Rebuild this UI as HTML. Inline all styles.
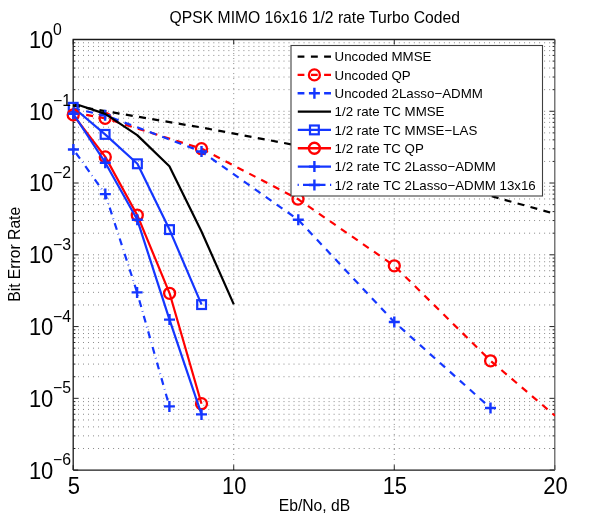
<!DOCTYPE html><html><head><meta charset="utf-8"><style>html,body{margin:0;padding:0;background:#fff;width:598px;height:529px;overflow:hidden}</style></head><body><svg width="598" height="529" viewBox="0 0 598 529" style="display:block;will-change:transform">
<rect width="598" height="529" fill="#fff"/>
<line x1="78" y1="89.66" x2="554.8" y2="89.66" stroke="#8a8a8a" stroke-width="1" stroke-dasharray="1 4.012"/>
<line x1="78" y1="77.03" x2="554.8" y2="77.03" stroke="#8a8a8a" stroke-width="1" stroke-dasharray="1 4.012"/>
<line x1="78" y1="68.06" x2="554.8" y2="68.06" stroke="#8a8a8a" stroke-width="1" stroke-dasharray="1 4.012"/>
<line x1="78" y1="61.10" x2="554.8" y2="61.10" stroke="#8a8a8a" stroke-width="1" stroke-dasharray="1 4.012"/>
<line x1="78" y1="55.42" x2="554.8" y2="55.42" stroke="#8a8a8a" stroke-width="1" stroke-dasharray="1 4.012"/>
<line x1="78" y1="50.62" x2="554.8" y2="50.62" stroke="#8a8a8a" stroke-width="1" stroke-dasharray="1 4.012"/>
<line x1="78" y1="46.45" x2="554.8" y2="46.45" stroke="#8a8a8a" stroke-width="1" stroke-dasharray="1 4.012"/>
<line x1="78" y1="42.78" x2="554.8" y2="42.78" stroke="#8a8a8a" stroke-width="1" stroke-dasharray="1 4.012"/>
<line x1="78" y1="161.43" x2="554.8" y2="161.43" stroke="#8a8a8a" stroke-width="1" stroke-dasharray="1 4.012"/>
<line x1="78" y1="148.79" x2="554.8" y2="148.79" stroke="#8a8a8a" stroke-width="1" stroke-dasharray="1 4.012"/>
<line x1="78" y1="139.83" x2="554.8" y2="139.83" stroke="#8a8a8a" stroke-width="1" stroke-dasharray="1 4.012"/>
<line x1="78" y1="132.87" x2="554.8" y2="132.87" stroke="#8a8a8a" stroke-width="1" stroke-dasharray="1 4.012"/>
<line x1="78" y1="127.19" x2="554.8" y2="127.19" stroke="#8a8a8a" stroke-width="1" stroke-dasharray="1 4.012"/>
<line x1="78" y1="122.38" x2="554.8" y2="122.38" stroke="#8a8a8a" stroke-width="1" stroke-dasharray="1 4.012"/>
<line x1="78" y1="118.22" x2="554.8" y2="118.22" stroke="#8a8a8a" stroke-width="1" stroke-dasharray="1 4.012"/>
<line x1="78" y1="114.55" x2="554.8" y2="114.55" stroke="#8a8a8a" stroke-width="1" stroke-dasharray="1 4.012"/>
<line x1="78" y1="233.20" x2="554.8" y2="233.20" stroke="#8a8a8a" stroke-width="1" stroke-dasharray="1 4.012"/>
<line x1="78" y1="220.56" x2="554.8" y2="220.56" stroke="#8a8a8a" stroke-width="1" stroke-dasharray="1 4.012"/>
<line x1="78" y1="211.59" x2="554.8" y2="211.59" stroke="#8a8a8a" stroke-width="1" stroke-dasharray="1 4.012"/>
<line x1="78" y1="204.64" x2="554.8" y2="204.64" stroke="#8a8a8a" stroke-width="1" stroke-dasharray="1 4.012"/>
<line x1="78" y1="198.95" x2="554.8" y2="198.95" stroke="#8a8a8a" stroke-width="1" stroke-dasharray="1 4.012"/>
<line x1="78" y1="194.15" x2="554.8" y2="194.15" stroke="#8a8a8a" stroke-width="1" stroke-dasharray="1 4.012"/>
<line x1="78" y1="189.99" x2="554.8" y2="189.99" stroke="#8a8a8a" stroke-width="1" stroke-dasharray="1 4.012"/>
<line x1="78" y1="186.32" x2="554.8" y2="186.32" stroke="#8a8a8a" stroke-width="1" stroke-dasharray="1 4.012"/>
<line x1="78" y1="304.96" x2="554.8" y2="304.96" stroke="#8a8a8a" stroke-width="1" stroke-dasharray="1 4.012"/>
<line x1="78" y1="292.33" x2="554.8" y2="292.33" stroke="#8a8a8a" stroke-width="1" stroke-dasharray="1 4.012"/>
<line x1="78" y1="283.36" x2="554.8" y2="283.36" stroke="#8a8a8a" stroke-width="1" stroke-dasharray="1 4.012"/>
<line x1="78" y1="276.40" x2="554.8" y2="276.40" stroke="#8a8a8a" stroke-width="1" stroke-dasharray="1 4.012"/>
<line x1="78" y1="270.72" x2="554.8" y2="270.72" stroke="#8a8a8a" stroke-width="1" stroke-dasharray="1 4.012"/>
<line x1="78" y1="265.92" x2="554.8" y2="265.92" stroke="#8a8a8a" stroke-width="1" stroke-dasharray="1 4.012"/>
<line x1="78" y1="261.75" x2="554.8" y2="261.75" stroke="#8a8a8a" stroke-width="1" stroke-dasharray="1 4.012"/>
<line x1="78" y1="258.08" x2="554.8" y2="258.08" stroke="#8a8a8a" stroke-width="1" stroke-dasharray="1 4.012"/>
<line x1="78" y1="376.73" x2="554.8" y2="376.73" stroke="#8a8a8a" stroke-width="1" stroke-dasharray="1 4.012"/>
<line x1="78" y1="364.09" x2="554.8" y2="364.09" stroke="#8a8a8a" stroke-width="1" stroke-dasharray="1 4.012"/>
<line x1="78" y1="355.13" x2="554.8" y2="355.13" stroke="#8a8a8a" stroke-width="1" stroke-dasharray="1 4.012"/>
<line x1="78" y1="348.17" x2="554.8" y2="348.17" stroke="#8a8a8a" stroke-width="1" stroke-dasharray="1 4.012"/>
<line x1="78" y1="342.49" x2="554.8" y2="342.49" stroke="#8a8a8a" stroke-width="1" stroke-dasharray="1 4.012"/>
<line x1="78" y1="337.68" x2="554.8" y2="337.68" stroke="#8a8a8a" stroke-width="1" stroke-dasharray="1 4.012"/>
<line x1="78" y1="333.52" x2="554.8" y2="333.52" stroke="#8a8a8a" stroke-width="1" stroke-dasharray="1 4.012"/>
<line x1="78" y1="329.85" x2="554.8" y2="329.85" stroke="#8a8a8a" stroke-width="1" stroke-dasharray="1 4.012"/>
<line x1="78" y1="448.50" x2="554.8" y2="448.50" stroke="#8a8a8a" stroke-width="1" stroke-dasharray="1 4.012"/>
<line x1="78" y1="435.86" x2="554.8" y2="435.86" stroke="#8a8a8a" stroke-width="1" stroke-dasharray="1 4.012"/>
<line x1="78" y1="426.89" x2="554.8" y2="426.89" stroke="#8a8a8a" stroke-width="1" stroke-dasharray="1 4.012"/>
<line x1="78" y1="419.94" x2="554.8" y2="419.94" stroke="#8a8a8a" stroke-width="1" stroke-dasharray="1 4.012"/>
<line x1="78" y1="414.25" x2="554.8" y2="414.25" stroke="#8a8a8a" stroke-width="1" stroke-dasharray="1 4.012"/>
<line x1="78" y1="409.45" x2="554.8" y2="409.45" stroke="#8a8a8a" stroke-width="1" stroke-dasharray="1 4.012"/>
<line x1="78" y1="405.29" x2="554.8" y2="405.29" stroke="#8a8a8a" stroke-width="1" stroke-dasharray="1 4.012"/>
<line x1="78" y1="401.62" x2="554.8" y2="401.62" stroke="#8a8a8a" stroke-width="1" stroke-dasharray="1 4.012"/>
<line x1="78" y1="111.27" x2="554.8" y2="111.27" stroke="#8a8a8a" stroke-width="1" stroke-dasharray="1 4.012"/>
<line x1="78" y1="183.03" x2="554.8" y2="183.03" stroke="#8a8a8a" stroke-width="1" stroke-dasharray="1 4.012"/>
<line x1="78" y1="254.80" x2="554.8" y2="254.80" stroke="#8a8a8a" stroke-width="1" stroke-dasharray="1 4.012"/>
<line x1="78" y1="326.57" x2="554.8" y2="326.57" stroke="#8a8a8a" stroke-width="1" stroke-dasharray="1 4.012"/>
<line x1="78" y1="398.33" x2="554.8" y2="398.33" stroke="#8a8a8a" stroke-width="1" stroke-dasharray="1 4.012"/>
<line x1="233.73" y1="43" x2="233.73" y2="470.1" stroke="#8a8a8a" stroke-width="1" stroke-dasharray="1 4.012"/>
<line x1="394.27" y1="43" x2="394.27" y2="470.1" stroke="#8a8a8a" stroke-width="1" stroke-dasharray="1 4.012"/>
<path d="M73.2,89.66h2.2M554.8,89.66h-2.2M73.2,77.03h2.2M554.8,77.03h-2.2M73.2,68.06h2.2M554.8,68.06h-2.2M73.2,61.10h2.2M554.8,61.10h-2.2M73.2,55.42h2.2M554.8,55.42h-2.2M73.2,50.62h2.2M554.8,50.62h-2.2M73.2,46.45h2.2M554.8,46.45h-2.2M73.2,42.78h2.2M554.8,42.78h-2.2M73.2,161.43h2.2M554.8,161.43h-2.2M73.2,148.79h2.2M554.8,148.79h-2.2M73.2,139.83h2.2M554.8,139.83h-2.2M73.2,132.87h2.2M554.8,132.87h-2.2M73.2,127.19h2.2M554.8,127.19h-2.2M73.2,122.38h2.2M554.8,122.38h-2.2M73.2,118.22h2.2M554.8,118.22h-2.2M73.2,114.55h2.2M554.8,114.55h-2.2M73.2,233.20h2.2M554.8,233.20h-2.2M73.2,220.56h2.2M554.8,220.56h-2.2M73.2,211.59h2.2M554.8,211.59h-2.2M73.2,204.64h2.2M554.8,204.64h-2.2M73.2,198.95h2.2M554.8,198.95h-2.2M73.2,194.15h2.2M554.8,194.15h-2.2M73.2,189.99h2.2M554.8,189.99h-2.2M73.2,186.32h2.2M554.8,186.32h-2.2M73.2,304.96h2.2M554.8,304.96h-2.2M73.2,292.33h2.2M554.8,292.33h-2.2M73.2,283.36h2.2M554.8,283.36h-2.2M73.2,276.40h2.2M554.8,276.40h-2.2M73.2,270.72h2.2M554.8,270.72h-2.2M73.2,265.92h2.2M554.8,265.92h-2.2M73.2,261.75h2.2M554.8,261.75h-2.2M73.2,258.08h2.2M554.8,258.08h-2.2M73.2,376.73h2.2M554.8,376.73h-2.2M73.2,364.09h2.2M554.8,364.09h-2.2M73.2,355.13h2.2M554.8,355.13h-2.2M73.2,348.17h2.2M554.8,348.17h-2.2M73.2,342.49h2.2M554.8,342.49h-2.2M73.2,337.68h2.2M554.8,337.68h-2.2M73.2,333.52h2.2M554.8,333.52h-2.2M73.2,329.85h2.2M554.8,329.85h-2.2M73.2,448.50h2.2M554.8,448.50h-2.2M73.2,435.86h2.2M554.8,435.86h-2.2M73.2,426.89h2.2M554.8,426.89h-2.2M73.2,419.94h2.2M554.8,419.94h-2.2M73.2,414.25h2.2M554.8,414.25h-2.2M73.2,409.45h2.2M554.8,409.45h-2.2M73.2,405.29h2.2M554.8,405.29h-2.2M73.2,401.62h2.2M554.8,401.62h-2.2M73.2,39.50h5M554.8,39.50h-5M73.2,111.27h5M554.8,111.27h-5M73.2,183.03h5M554.8,183.03h-5M73.2,254.80h5M554.8,254.80h-5M73.2,326.57h5M554.8,326.57h-5M73.2,398.33h5M554.8,398.33h-5M73.2,470.10h5M554.8,470.10h-5M73.20,470.1v-5M73.20,39.5v5M233.73,470.1v-5M233.73,39.5v5M394.27,470.1v-5M394.27,39.5v5M554.80,470.1v-5M554.80,39.5v5" stroke="#262626" stroke-width="1" fill="none"/>
<path d="M73.2,470.1V39.5H554.8" stroke="#1a1a1a" stroke-width="1.3" fill="none"/>
<path d="M73.2,470.1H554.8" stroke="#1a1a1a" stroke-width="1.3" fill="none"/>
<path d="M554.8,39.5V470.1" stroke="#555" stroke-width="1.2" fill="none"/>
<defs><clipPath id="c"><rect x="73" y="39" width="482" height="431"/></clipPath></defs>
<path clip-path="url(#c)" d="M73.00,105.60 L105.10,111.10 L201.50,127.50 L297.90,145.60 L394.30,170.00 L490.70,196.00 L555.00,213.80" stroke="#000000" stroke-width="2.2" fill="none" stroke-linejoin="round" stroke-dasharray="7 6.4" stroke-dashoffset="0"/>
<path clip-path="url(#c)" d="M73.00,112.40 L105.10,118.30 L201.50,148.70 L298.00,199.10 L394.30,265.80 L490.60,360.80 L555.00,415.70" stroke="#ff0000" stroke-width="2.2" fill="none" stroke-linejoin="round" stroke-dasharray="7 6.4" stroke-dashoffset="0"/>
<circle cx="105.10" cy="118.30" r="5.5" stroke="#ff0000" stroke-width="2.3" fill="none"/>
<circle cx="201.50" cy="148.70" r="5.5" stroke="#ff0000" stroke-width="2.3" fill="none"/>
<circle cx="298.00" cy="199.10" r="5.5" stroke="#ff0000" stroke-width="2.3" fill="none"/>
<circle cx="394.30" cy="265.80" r="5.5" stroke="#ff0000" stroke-width="2.3" fill="none"/>
<circle cx="490.60" cy="360.80" r="5.5" stroke="#ff0000" stroke-width="2.3" fill="none"/>
<path clip-path="url(#c)" d="M73.00,108.50 L105.10,115.30 L201.50,151.50 L298.30,219.80 L394.30,322.00 L490.50,408.00" stroke="#1436ff" stroke-width="2.2" fill="none" stroke-linejoin="round" stroke-dasharray="7 6.4" stroke-dashoffset="0"/>
<path d="M99.60,115.30h11M105.10,109.80v11" stroke="#1436ff" stroke-width="2.4" fill="none"/>
<path d="M196.00,151.50h11M201.50,146.00v11" stroke="#1436ff" stroke-width="2.4" fill="none"/>
<path d="M292.80,219.80h11M298.30,214.30v11" stroke="#1436ff" stroke-width="2.4" fill="none"/>
<path d="M388.80,322.00h11M394.30,316.50v11" stroke="#1436ff" stroke-width="2.4" fill="none"/>
<path d="M485.00,408.00h11M490.50,402.50v11" stroke="#1436ff" stroke-width="2.4" fill="none"/>
<path clip-path="url(#c)" d="M73.20,103.20 L105.30,113.90 L137.20,135.10 L169.40,166.30 L201.50,231.50 L233.80,304.40" stroke="#000000" stroke-width="2.2" fill="none" stroke-linejoin="round"/>
<path clip-path="url(#c)" d="M73.20,107.30 L105.10,134.40 L137.40,163.80 L169.50,229.60 L201.60,304.60" stroke="#1436ff" stroke-width="2.2" fill="none" stroke-linejoin="round"/>
<rect x="68.80" y="102.90" width="8.8" height="8.8" stroke="#1436ff" stroke-width="2.2" fill="none"/>
<rect x="100.70" y="130.00" width="8.8" height="8.8" stroke="#1436ff" stroke-width="2.2" fill="none"/>
<rect x="133.00" y="159.40" width="8.8" height="8.8" stroke="#1436ff" stroke-width="2.2" fill="none"/>
<rect x="165.10" y="225.20" width="8.8" height="8.8" stroke="#1436ff" stroke-width="2.2" fill="none"/>
<rect x="197.20" y="300.20" width="8.8" height="8.8" stroke="#1436ff" stroke-width="2.2" fill="none"/>
<path clip-path="url(#c)" d="M73.20,114.90 L105.30,156.90 L137.30,215.20 L169.60,293.30 L201.50,403.70" stroke="#ff0000" stroke-width="2.2" fill="none" stroke-linejoin="round"/>
<circle cx="73.20" cy="114.90" r="5.5" stroke="#ff0000" stroke-width="2.3" fill="none"/>
<circle cx="105.30" cy="156.90" r="5.5" stroke="#ff0000" stroke-width="2.3" fill="none"/>
<circle cx="137.30" cy="215.20" r="5.5" stroke="#ff0000" stroke-width="2.3" fill="none"/>
<circle cx="169.60" cy="293.30" r="5.5" stroke="#ff0000" stroke-width="2.3" fill="none"/>
<circle cx="201.50" cy="403.70" r="5.5" stroke="#ff0000" stroke-width="2.3" fill="none"/>
<path clip-path="url(#c)" d="M73.30,113.80 L105.30,162.70 L137.30,219.80 L169.50,319.60 L201.50,414.40" stroke="#1436ff" stroke-width="2.2" fill="none" stroke-linejoin="round"/>
<path d="M67.80,113.80h11M73.30,108.30v11" stroke="#1436ff" stroke-width="2.4" fill="none"/>
<path d="M99.80,162.70h11M105.30,157.20v11" stroke="#1436ff" stroke-width="2.4" fill="none"/>
<path d="M131.80,219.80h11M137.30,214.30v11" stroke="#1436ff" stroke-width="2.4" fill="none"/>
<path d="M164.00,319.60h11M169.50,314.10v11" stroke="#1436ff" stroke-width="2.4" fill="none"/>
<path d="M196.00,414.40h11M201.50,408.90v11" stroke="#1436ff" stroke-width="2.4" fill="none"/>
<path clip-path="url(#c)" d="M73.40,149.50 L105.30,194.10 L137.10,292.40 L169.40,406.40" stroke="#1436ff" stroke-width="2.2" fill="none" stroke-linejoin="round" stroke-dasharray="7 4.35 0.6 4.25" stroke-dashoffset="11.9"/>
<path d="M67.90,149.50h11M73.40,144.00v11" stroke="#1436ff" stroke-width="2.4" fill="none"/>
<path d="M99.80,194.10h11M105.30,188.60v11" stroke="#1436ff" stroke-width="2.4" fill="none"/>
<path d="M131.60,292.40h11M137.10,286.90v11" stroke="#1436ff" stroke-width="2.4" fill="none"/>
<path d="M163.90,406.40h11M169.40,400.90v11" stroke="#1436ff" stroke-width="2.4" fill="none"/>
<rect x="291.0" y="45.5" width="251.5" height="150.5" fill="#fff" stroke="#404040" stroke-width="1.1"/>
<path d="M297.6,56.55h6.8M310.9,56.55h6.9M324.1,56.55h6.9" stroke="#000000" stroke-width="2.3" fill="none"/>
<text x="334.6" y="61.45" style="font-family:'Liberation Sans',sans-serif;font-size:13.3px" fill="#000">Uncoded MMSE</text>
<path d="M297.6,74.89h6.8M324.1,74.89h6.9" stroke="#ff0000" stroke-width="2.3" fill="none"/>
<path d="M311,74.89h6.7" stroke="#ff0000" stroke-width="2.3" fill="none"/>
<circle cx="314.40" cy="74.89" r="5.5" stroke="#ff0000" stroke-width="2.3" fill="none"/>
<text x="334.6" y="79.79" style="font-family:'Liberation Sans',sans-serif;font-size:13.3px" fill="#000">Uncoded QP</text>
<path d="M297.6,93.23h6.8M324.1,93.23h6.9" stroke="#1436ff" stroke-width="2.3" fill="none"/>
<path d="M308.90,93.23h11M314.40,87.73v11" stroke="#1436ff" stroke-width="2.4" fill="none"/>
<text x="334.6" y="98.13" style="font-family:'Liberation Sans',sans-serif;font-size:13.3px" fill="#000">Uncoded 2Lasso−ADMM</text>
<path d="M297.8,111.57H331" stroke="#000000" stroke-width="2.3" fill="none"/>
<text x="334.6" y="116.47" style="font-family:'Liberation Sans',sans-serif;font-size:13.3px" fill="#000">1/2 rate TC MMSE</text>
<path d="M297.8,129.91H331" stroke="#1436ff" stroke-width="2.3" fill="none"/>
<rect x="310.00" y="125.51" width="8.8" height="8.8" stroke="#1436ff" stroke-width="2.2" fill="none"/>
<text x="334.6" y="134.81" style="font-family:'Liberation Sans',sans-serif;font-size:13.3px" fill="#000">1/2 rate TC MMSE−LAS</text>
<path d="M297.8,148.25H331" stroke="#ff0000" stroke-width="2.3" fill="none"/>
<circle cx="314.40" cy="148.25" r="5.5" stroke="#ff0000" stroke-width="2.3" fill="none"/>
<text x="334.6" y="153.15" style="font-family:'Liberation Sans',sans-serif;font-size:13.3px" fill="#000">1/2 rate TC QP</text>
<path d="M297.8,166.59H331" stroke="#1436ff" stroke-width="2.3" fill="none"/>
<path d="M308.90,166.59h11M314.40,161.09v11" stroke="#1436ff" stroke-width="2.4" fill="none"/>
<text x="334.6" y="171.49" style="font-family:'Liberation Sans',sans-serif;font-size:13.3px" fill="#000">1/2 rate TC 2Lasso−ADMM</text>
<path d="M297.6,184.93h1.2M303,184.93h22.5M330,184.93h1.2" stroke="#1436ff" stroke-width="2.3" fill="none"/>
<path d="M308.90,184.93h11M314.40,179.43v11" stroke="#1436ff" stroke-width="2.4" fill="none"/>
<text x="334.6" y="189.83" style="font-family:'Liberation Sans',sans-serif;font-size:13.3px" fill="#000">1/2 rate TC 2Lasso−ADMM 13x16</text>
<text x="314.8" y="23" text-anchor="middle" style="font-family:'Liberation Sans',sans-serif;font-size:15.7px" fill="#000">QPSK MIMO 16x16 1/2 rate Turbo Coded</text>
<text x="314.5" y="510.6" text-anchor="middle" style="font-family:'Liberation Sans',sans-serif;font-size:15.7px" fill="#000">Eb/No, dB</text>
<text transform="translate(20,254.3) rotate(-90)" x="0" y="0" text-anchor="middle" style="font-family:'Liberation Sans',sans-serif;font-size:15.7px" fill="#000">Bit Error Rate</text>
<text transform="translate(73.80,494.3) scale(1,1.08)" text-anchor="middle" style="font-family:'Liberation Sans',sans-serif;font-size:22px" fill="#000">5</text>
<text transform="translate(234.33,494.3) scale(1,1.08)" text-anchor="middle" style="font-family:'Liberation Sans',sans-serif;font-size:22px" fill="#000">10</text>
<text transform="translate(394.87,494.3) scale(1,1.08)" text-anchor="middle" style="font-family:'Liberation Sans',sans-serif;font-size:22px" fill="#000">15</text>
<text transform="translate(555.40,494.3) scale(1,1.08)" text-anchor="middle" style="font-family:'Liberation Sans',sans-serif;font-size:22px" fill="#000">20</text>
<text transform="translate(28.9,47.90) scale(1,1.08)" style="font-family:'Liberation Sans',sans-serif;font-size:22px" fill="#000">10</text>
<text x="53.0" y="34.50" style="font-family:'Liberation Sans',sans-serif;font-size:15.8px" fill="#000">0</text>
<text transform="translate(28.9,119.67) scale(1,1.08)" style="font-family:'Liberation Sans',sans-serif;font-size:22px" fill="#000">10</text>
<text x="53.0" y="106.27" style="font-family:'Liberation Sans',sans-serif;font-size:15.8px" fill="#000">−1</text>
<text transform="translate(28.9,191.43) scale(1,1.08)" style="font-family:'Liberation Sans',sans-serif;font-size:22px" fill="#000">10</text>
<text x="53.0" y="178.03" style="font-family:'Liberation Sans',sans-serif;font-size:15.8px" fill="#000">−2</text>
<text transform="translate(28.9,263.20) scale(1,1.08)" style="font-family:'Liberation Sans',sans-serif;font-size:22px" fill="#000">10</text>
<text x="53.0" y="249.80" style="font-family:'Liberation Sans',sans-serif;font-size:15.8px" fill="#000">−3</text>
<text transform="translate(28.9,334.97) scale(1,1.08)" style="font-family:'Liberation Sans',sans-serif;font-size:22px" fill="#000">10</text>
<text x="53.0" y="321.57" style="font-family:'Liberation Sans',sans-serif;font-size:15.8px" fill="#000">−4</text>
<text transform="translate(28.9,406.73) scale(1,1.08)" style="font-family:'Liberation Sans',sans-serif;font-size:22px" fill="#000">10</text>
<text x="53.0" y="393.33" style="font-family:'Liberation Sans',sans-serif;font-size:15.8px" fill="#000">−5</text>
<text transform="translate(28.9,478.50) scale(1,1.08)" style="font-family:'Liberation Sans',sans-serif;font-size:22px" fill="#000">10</text>
<text x="53.0" y="465.10" style="font-family:'Liberation Sans',sans-serif;font-size:15.8px" fill="#000">−6</text>
</svg></body></html>
